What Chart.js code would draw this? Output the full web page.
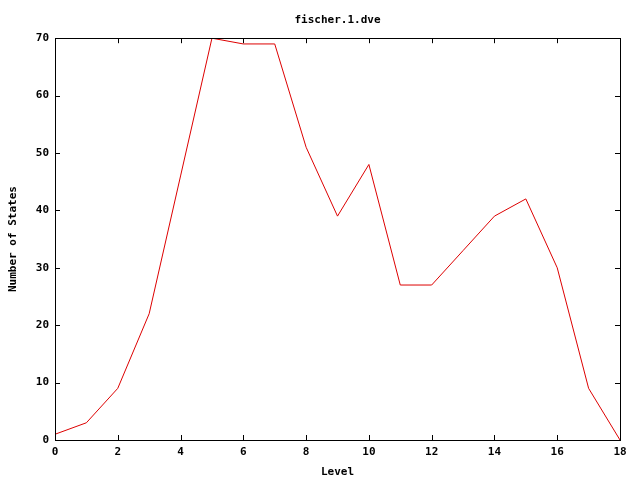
<!DOCTYPE html>
<html>
<head>
<meta charset="utf-8">
<script src="https://cdn.jsdelivr.net/npm/chart.js@4/dist/chart.umd.min.js"></script>
<style>
  body { margin: 0; background: #fff; }
</style>
</head>
<body>
<canvas id="grafico" width="640" height="480"></canvas>
<script>
//Dados do gráfico
const levels = [0, 1, 2, 3, 4, 5, 6, 7, 8, 9, 10, 11, 12, 13, 14, 15, 16, 17, 18]; //Level
const states = [1, 3, 9, 22, 46, 70, 69, 69, 51, 39, 48, 27, 27, 33, 39, 42, 30, 9, 0]; //Number of States
const xTicks = [0, 2, 4, 6, 8, 10, 12, 14, 16, 18];
const yTicks = [0, 10, 20, 30, 40, 50, 60, 70];

Chart.defaults.font.family = "'DejaVu Sans Mono', monospace";
Chart.defaults.font.weight = "bold";
Chart.defaults.font.size = 11;
Chart.defaults.color = "#000";

//Moldura e ticks para dentro (estilo gnuplot)
const moldura = {
  id: "moldura",
  afterDraw(chart) {
    const { ctx, chartArea: a, scales } = chart;
    const len = 5;
    ctx.save();
    ctx.strokeStyle = "#000";
    ctx.lineWidth = 1;
    ctx.beginPath();
    scales.x.ticks.forEach((t) => {
      const px = Math.round(scales.x.getPixelForValue(t.value)) + 0.5;
      ctx.moveTo(px, a.bottom);
      ctx.lineTo(px, a.bottom - len);
      ctx.moveTo(px, a.top);
      ctx.lineTo(px, a.top + len);
    });
    scales.y.ticks.forEach((t) => {
      const py = Math.round(scales.y.getPixelForValue(t.value)) + 0.5;
      ctx.moveTo(a.left, py);
      ctx.lineTo(a.left + len, py);
      ctx.moveTo(a.right, py);
      ctx.lineTo(a.right - len, py);
    });
    ctx.stroke();
    ctx.strokeRect(Math.round(a.left) + 0.5, Math.round(a.top) + 0.5, Math.round(a.right - a.left), Math.round(a.bottom - a.top));
    ctx.restore();
  },
};

const ctx = document.getElementById("grafico").getContext("2d");
new Chart(ctx, {
  type: "line",
  data: {
    datasets: [
      {
        data: levels.map((l, i) => ({ x: l, y: states[i] })),
        borderColor: "#dd0000",
        borderWidth: 1,
        pointRadius: 0,
        tension: 0,
        fill: false,
      },
    ],
  },
  options: {
    responsive: false,
    animation: false,
    layout: { padding: { left: 0, right: 20, top: 0, bottom: 0 } },
    plugins: {
      legend: { display: false },
      tooltip: { enabled: false },
      title: {
        display: true,
        text: "fischer.1.dve",
        fullSize: false,
        padding: { top: 14, bottom: 11 },
        font: { size: 11, weight: "bold" },
        color: "#000",
      },
    },
    scales: {
      x: {
        type: "linear",
        min: 0,
        max: 18,
        afterBuildTicks: (s) => { s.ticks = xTicks.map((v) => ({ value: v })); },
        ticks: { padding: 6, maxRotation: 0, autoSkip: false },
        grid: { display: false, drawTicks: false },
        border: { display: false },
        title: { display: true, text: "Level", padding: { top: 0, bottom: 1 } },
        afterFit: (s) => { s.height = 40; },
      },
      y: {
        min: 0,
        max: 70,
        afterBuildTicks: (s) => { s.ticks = yTicks.map((v) => ({ value: v })); },
        ticks: { padding: 6, autoSkip: false },
        grid: { display: false, drawTicks: false },
        border: { display: false },
        title: { display: true, text: "Number of States", padding: { top: 7, bottom: 0 } },
        afterFit: (s) => { s.width = 55; },
      },
    },
  },
  plugins: [moldura],
});
</script>
</body>
</html>
